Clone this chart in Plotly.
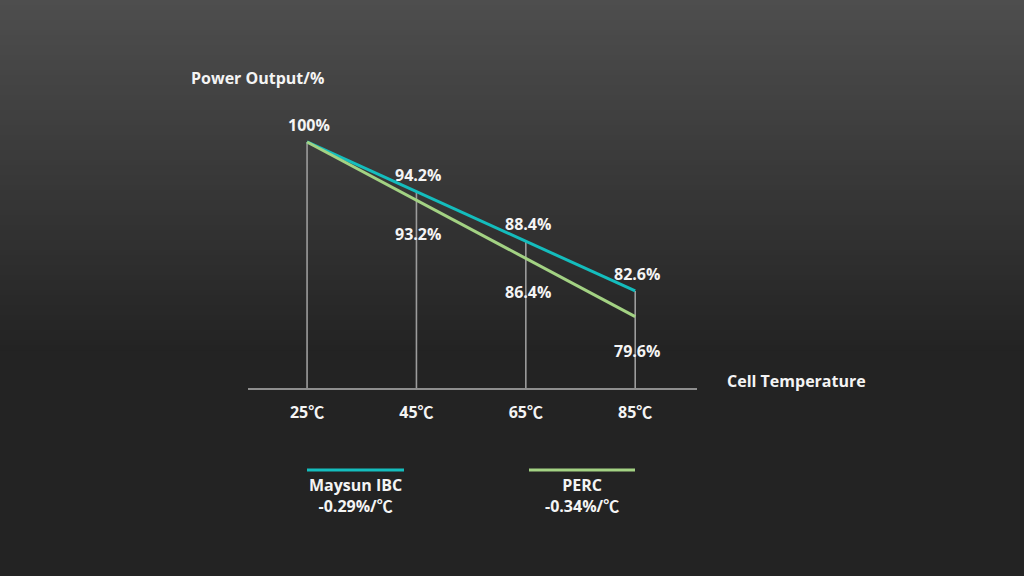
import plotly.graph_objects as go

# ---- data ----
temperatures = [25, 45, 65, 85]
tick_labels = ["25℃", "45℃", "65℃", "85℃"]
ibc_values = [100, 94.2, 88.4, 82.6]
perc_values = [100, 93.2, 86.4, 79.6]
series_names = ["Maysun IBC", "PERC"]
series_coeffs = ["-0.29%/℃", "-0.34%/℃"]

# ---- style / layout ----
W, H = 1024, 576
L, R, T, B = 248, 697, 100, 388  # plot area in pixels
XR = [14.2, 96.3]
YR = [71.26, 104.9]
TEAL = "#14bdbd"
GREEN = "#a3d283"
GREY = "#9c9c9c"
TXT = "#f4f4f4"
FONT = "Open Sans, Noto Sans CJK SC, sans-serif"


def px(xp):
    return (xp - L) / (R - L)


def py(yp):
    return (B - yp) / (B - T)


fig = go.Figure()

# vertical drop lines from axis to the top value of each temperature
dx, dy = [], []
for t, a, b in zip(temperatures, ibc_values, perc_values):
    dx += [t, t, None]
    dy += [YR[0], max(a, b), None]
fig.add_trace(go.Scatter(x=dx, y=dy, mode="lines",
                         line=dict(color=GREY, width=1.6),
                         hoverinfo="skip", showlegend=False))

fig.add_trace(go.Scatter(
    x=temperatures, y=ibc_values, mode="lines",
    line=dict(color=TEAL, width=3),
    name=series_names[0], showlegend=False))

fig.add_trace(go.Scatter(
    x=temperatures, y=perc_values, mode="lines",
    line=dict(color=GREEN, width=3),
    name=series_names[1], showlegend=False))

shapes = []
# background gradient
top_c, bot_c = 0x4e, 0x23
grad_end = 350
n = 70
for i in range(n):
    y0 = grad_end * i / n
    y1 = grad_end * (i + 1) / n + 0.5
    c = round(top_c + (bot_c - top_c) * (i + 0.5) / n)
    col = f"rgb({c},{c},{c})"
    shapes.append(dict(type="rect", xref="paper", yref="paper", layer="below",
                       x0=px(0), x1=px(W), y0=py(y1), y1=py(y0),
                       fillcolor=col, line=dict(width=0)))

# legend lines
leg_x = [(307, 404), (529, 635)]
leg_cols = [TEAL, GREEN]
for (a, b), c in zip(leg_x, leg_cols):
    shapes.append(dict(type="line", xref="paper", yref="paper",
                       x0=px(a), x1=px(b), y0=py(470), y1=py(470),
                       line=dict(color=c, width=3)))

annotations = [
    dict(text="<b>Power Output/%</b>", x=px(189), y=py(78), xanchor="left",
         yanchor="middle", xref="paper", yref="paper"),
    dict(text="<b>Cell Temperature</b>", x=px(725), y=py(381), xanchor="left",
         yanchor="middle", xref="paper", yref="paper"),
]
for (a, b), name, coef in zip(leg_x, series_names, series_coeffs):
    annotations.append(dict(text=f"<b>{name}</b><br><b>{coef}</b>",
                            x=px((a + b) / 2), y=py(495), xanchor="center",
                            yanchor="middle", align="center",
                            xref="paper", yref="paper"))
# data labels
for t, v in zip(temperatures, ibc_values):
    annotations.append(dict(text=f"<b>{v:g}%</b>", x=t, y=v, xref="x", yref="y",
                            yshift=17, xshift=2, yanchor="middle"))
for t, v in list(zip(temperatures, perc_values))[1:]:
    annotations.append(dict(text=f"<b>{v:g}%</b>", x=t, y=v, xref="x", yref="y",
                            yshift=-34, xshift=2, yanchor="middle"))
for an in annotations:
    an.update(showarrow=False, font=dict(color=TXT, size=16, family=FONT))

fig.update_layout(
    width=W, height=H,
    margin=dict(l=L, r=W - R, t=T, b=H - B, pad=0),
    paper_bgcolor="rgb(35,35,35)",
    plot_bgcolor="rgba(0,0,0,0)",
    shapes=shapes, annotations=annotations,
    font=dict(family=FONT, color=TXT),
    xaxis=dict(range=XR, tickvals=temperatures,
               ticktext=[f"<b>{t}</b>" for t in tick_labels],
               tickfont=dict(size=16, color=TXT, family=FONT),
               showgrid=False, zeroline=False, showline=True,
               linecolor="#8e8e8e", linewidth=2, ticks="",
               ticklabelstandoff=9, fixedrange=True),
    yaxis=dict(range=YR, visible=False, showgrid=False, zeroline=False,
               fixedrange=True),
)

fig.write_html("out.html", config={"displayModeBar": False},
               post_script="document.body.style.margin='0';document.body.style.overflow='hidden';")
